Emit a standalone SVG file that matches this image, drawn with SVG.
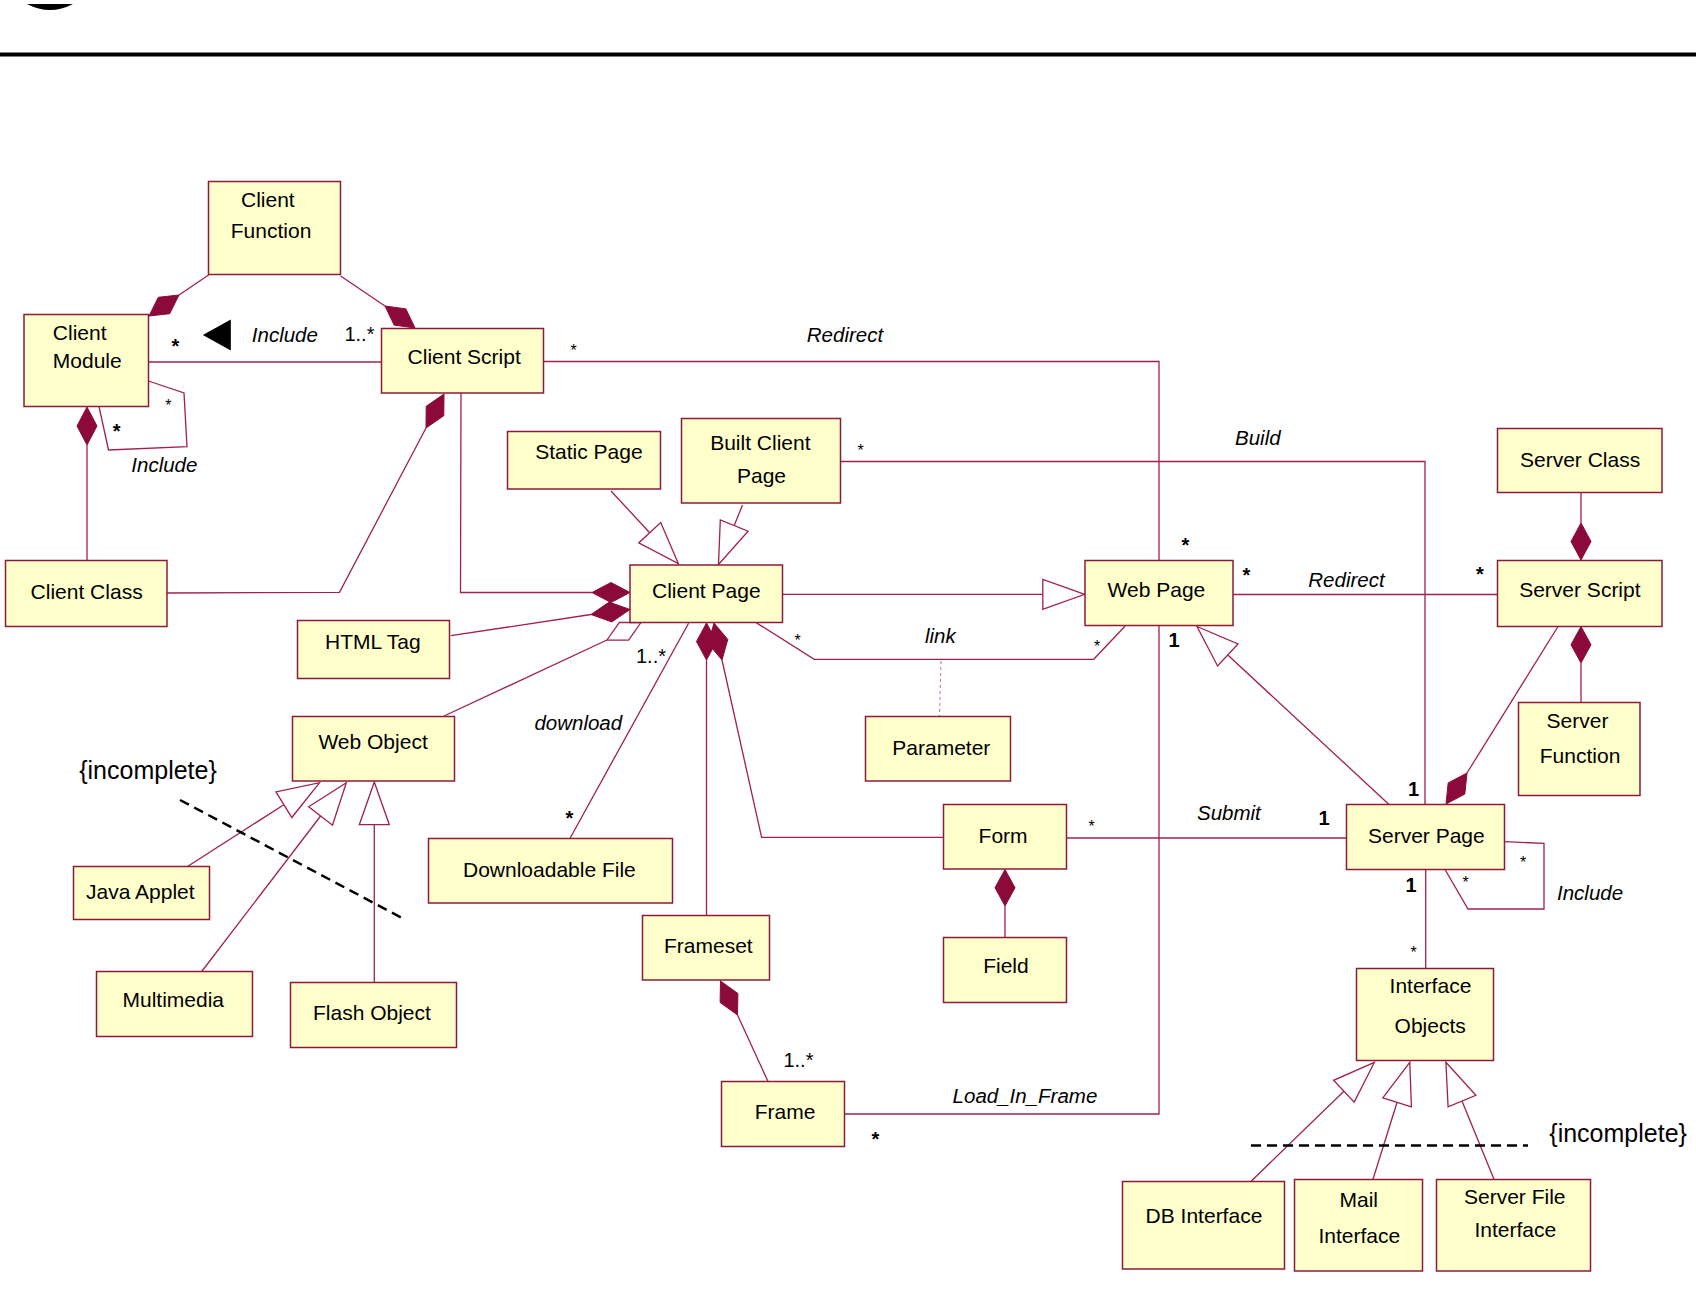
<svg xmlns="http://www.w3.org/2000/svg" width="1696" height="1302" viewBox="0 0 1696 1302">
<style>
.n{fill:#FFFFCC;stroke:#8E1A3A;stroke-width:1.5}
.t{font-family:"Liberation Sans",Arial,sans-serif;font-size:21px;fill:#000}
.c{fill:none;stroke:#A0204F;stroke-width:1.3}
.d{fill:#8B0A3A;stroke:#8B0A3A;stroke-width:1}
.h{fill:#FFFFFF;stroke:#A0204F;stroke-width:1.3}
.m{font-family:"Liberation Sans",Arial,sans-serif;font-size:20px;fill:#000}
.b{font-family:"Liberation Sans",Arial,sans-serif;font-size:20px;font-weight:bold;fill:#000}
.s{font-family:"Liberation Sans",Arial,sans-serif;font-size:16px;fill:#000}
.l{font-family:"Liberation Sans",Arial,sans-serif;font-size:20.5px;font-style:italic;fill:#000}
.k{fill:none;stroke:#000;stroke-width:2.5;stroke-dasharray:10 6}
.inc{font-family:"Liberation Sans",Arial,sans-serif;font-size:25px;fill:#000}
</style>
<rect x="0" y="0" width="1696" height="1302" fill="#FFFFFF"/>
<path d="M 27,4 L 73,4 Q 50,16 27,4 Z" fill="#000"/>
<line x1="0" y1="54.5" x2="1696" y2="54.5" stroke="#000" stroke-width="4"/>

<g id="connectors">
<line class="c" x1="208.6" y1="275" x2="179" y2="295"/>
<polygon class="d" points="149,316 169.7,313.7 179,295 158.3,297.3"/>
<line class="c" x1="340.6" y1="276" x2="385" y2="306"/>
<polygon class="d" points="415,328 405.9,308.9 385,306 394.1,325.1"/>
<line class="c" x1="148.5" y1="362" x2="381.5" y2="362"/>
<polygon points="202.8,335 230.8,319.5 230.8,350.5" fill="#000"/>
<polyline class="c" points="148.5,381 184,393 187,446.7 108.5,450 99,406.5"/>
<line class="c" x1="87" y1="560.5" x2="87" y2="445"/>
<polygon class="d" points="87,407 97,426 87,445 77,426"/>
<polyline class="c" points="167,593 339.5,592.3 426,428"/>
<polygon class="d" points="444,394 443.8,415.7 426,428 426.2,406.3"/>
<polyline class="c" points="461,393 460.5,592.5 592,592.5"/>
<polygon class="d" points="630,592.5 611,582.5 592,592.5 611,602.5"/>
<line class="c" x1="450.8" y1="635.7" x2="591" y2="614.5"/>
<polygon class="d" points="630,609.5 611.8,621.9 591,614.5 609.2,602.1"/>
<line class="c" x1="444" y1="716" x2="607" y2="640"/>
<polygon class="h" points="641,622.5 628.6,640.2 607,640 619.4,622.4"/>
<line class="c" x1="688.6" y1="623.3" x2="570.2" y2="838"/>
<line class="c" x1="706.5" y1="915.5" x2="706.5" y2="660"/>
<polygon class="d" points="706.5,623 716.5,641.5 706.5,660 696.5,641.5"/>
<polyline class="c" points="943.5,837.3 761.6,837.3 722,660"/>
<polygon class="d" points="714,623 727.8,639.4 722,660 708.2,643.6"/>
<line class="c" x1="782.5" y1="594.3" x2="1042.8" y2="594.3"/>
<polygon class="h" points="1084.8,594.3 1042.8,579.3 1042.8,609.3"/>
<polyline class="c" points="756.2,622.7 814.3,659.3 1093.7,659.3 1125.2,626"/>
<line x1="941" y1="661" x2="939.5" y2="716.5" stroke="#C07090" stroke-width="1" stroke-dasharray="3 3"/>
<polyline class="c" points="543.5,361.5 1159,361.5 1159,560.5"/>
<polyline class="c" points="840.5,461.5 1425,461.5 1425,804.5"/>
<line class="c" x1="611" y1="491" x2="649.7" y2="532.7"/>
<polygon class="h" points="678.3,563.5 660.7,522.5 638.7,542.9"/>
<line class="c" x1="742.5" y1="505" x2="734.2" y2="525.6"/>
<polygon class="h" points="718.5,564.5 748.1,531.2 720.3,520"/>
<line class="c" x1="1233" y1="594.5" x2="1497.5" y2="594.5"/>
<line class="c" x1="1581" y1="492.5" x2="1581" y2="523"/>
<polygon class="d" points="1581,560 1591,541.5 1581,523 1571,541.5"/>
<line class="c" x1="1581" y1="702.5" x2="1581" y2="663"/>
<polygon class="d" points="1581,626.5 1591,644.75 1581,663 1571,644.75"/>
<line class="c" x1="1558" y1="626.5" x2="1467" y2="773"/>
<polygon class="d" points="1446,804 1464.8,794.1 1467,773 1448.2,782.9"/>
<line class="c" x1="1389" y1="804.5" x2="1227.8" y2="655"/>
<polygon class="h" points="1197,626.5 1238,644 1217.6,666"/>
<line class="c" x1="1066.5" y1="838" x2="1346.5" y2="838"/>
<polyline class="c" points="844.5,1114 1159,1114 1159,625.5"/>
<line class="c" x1="768" y1="1081.5" x2="737.5" y2="1015"/>
<polygon class="d" points="720.5,981 737.9,993.5 737.5,1015 720.1,1002.5"/>
<line class="c" x1="1005" y1="937.5" x2="1005" y2="906"/>
<polygon class="d" points="1005,869.5 1015,887.75 1005,906 995,887.75"/>
<line class="c" x1="1425.7" y1="869.5" x2="1425.7" y2="968.5"/>
<polyline class="c" points="1504.5,841.7 1544,843.3 1544,909 1468,909 1445,869.5"/>
<line class="c" x1="1250.9" y1="1181.5" x2="1343.9" y2="1091.2"/>
<polygon class="h" points="1374.4,1062.3 1354.2,1102.1 1333.6,1080.3"/>
<line class="c" x1="1372.9" y1="1179.5" x2="1397.1" y2="1102.3"/>
<polygon class="h" points="1409.8,1062.3 1411.4,1106.8 1382.8,1097.8"/>
<line class="c" x1="1494.1" y1="1179.5" x2="1462" y2="1101.1"/>
<polygon class="h" points="1445.9,1062.3 1475.9,1095.3 1448.1,1106.9"/>
<line class="c" x1="187.5" y1="866.5" x2="283.9" y2="804.7"/>
<polygon class="h" points="319.6,782.7 291.8,817.5 276,791.9"/>
<line class="c" x1="201.7" y1="971.5" x2="320.6" y2="816"/>
<polygon class="h" points="346.3,782.7 332.5,825.2 308.7,806.8"/>
<line class="c" x1="374.3" y1="982.5" x2="374.3" y2="824.7"/>
<polygon class="h" points="374.3,782 359.3,824.7 389.3,824.7"/>
<line class="k" x1="180" y1="800" x2="404" y2="919"/>
<line class="k" x1="1251" y1="1145.5" x2="1528" y2="1145.5"/>

<text class="b" x="175.3" y="353" text-anchor="middle">*</text>
<text class="l" x="251.8" y="342">Include</text>
<text class="m" x="344.4" y="341">1..*</text>
<text class="s" x="168.4" y="411" text-anchor="middle">*</text>
<text class="b" x="116.7" y="438" text-anchor="middle">*</text>
<text class="l" x="131.3" y="472">Include</text>
<text class="s" x="573.5" y="356" text-anchor="middle">*</text>
<text class="l" x="806.8" y="341.7">Redirect</text>
<text class="s" x="860.7" y="456" text-anchor="middle">*</text>
<text class="l" x="1235" y="445">Build</text>
<text class="b" x="1185.5" y="552" text-anchor="middle">*</text>
<text class="b" x="1246.3" y="582" text-anchor="middle">*</text>
<text class="l" x="1308.3" y="586.7">Redirect</text>
<text class="b" x="1480" y="581" text-anchor="middle">*</text>
<text class="s" x="797.7" y="646" text-anchor="middle">*</text>
<text class="l" x="925" y="642.7">link</text>
<text class="s" x="1097" y="652" text-anchor="middle">*</text>
<text class="b" x="1174" y="646.5" text-anchor="middle">1</text>
<text class="m" x="636" y="663">1..*</text>
<text class="l" x="534.4" y="730">download</text>
<text class="b" x="569.5" y="825" text-anchor="middle">*</text>
<text class="s" x="1091.5" y="832" text-anchor="middle">*</text>
<text class="l" x="1197" y="820">Submit</text>
<text class="b" x="1324" y="825" text-anchor="middle">1</text>
<text class="b" x="1413.6" y="795.5" text-anchor="middle">1</text>
<text class="b" x="1411" y="892" text-anchor="middle">1</text>
<text class="s" x="1523" y="867.6" text-anchor="middle">*</text>
<text class="s" x="1465.6" y="887.6" text-anchor="middle">*</text>
<text class="l" x="1557" y="900">Include</text>
<text class="s" x="1413.6" y="957.6" text-anchor="middle">*</text>
<text class="m" x="783.4" y="1066.7">1..*</text>
<text class="l" x="952.6" y="1103.3">Load_In_Frame</text>
<text class="b" x="875.3" y="1145.6" text-anchor="middle">*</text>
<text class="inc" x="79.2" y="779.3">{incomplete}</text>
<text class="inc" x="1549.3" y="1141.7">{incomplete}</text>
</g>

<g id="clientFunction"><rect class="n" x="208.5" y="181.5" width="132" height="93"/><text class="t" x="241" y="207.3">Client</text><text class="t" x="230.8" y="238.3">Function</text></g>
<g id="clientModule"><rect class="n" x="24" y="314.5" width="124.5" height="92"/><text class="t" x="52.8" y="340">Client</text><text class="t" x="52.8" y="367.7">Module</text></g>
<g id="clientScript"><rect class="n" x="381.5" y="328.5" width="162" height="64.5"/><text class="t" x="407.6" y="364">Client Script</text></g>
<g id="clientClass"><rect class="n" x="5.5" y="560.5" width="161.5" height="66"/><text class="t" x="30.6" y="599.3">Client Class</text></g>
<g id="htmlTag"><rect class="n" x="297.5" y="620.5" width="152" height="58"/><text class="t" x="325" y="649">HTML Tag</text></g>
<g id="webObject"><rect class="n" x="292.5" y="716.5" width="162" height="64.5"/><text class="t" x="318.4" y="749">Web Object</text></g>
<g id="javaApplet"><rect class="n" x="73.5" y="866.5" width="136" height="53"/><text class="t" x="86" y="898.5">Java Applet</text></g>
<g id="multimedia"><rect class="n" x="96.5" y="971.5" width="156" height="65"/><text class="t" x="122.5" y="1006.7">Multimedia</text></g>
<g id="flashObject"><rect class="n" x="290.5" y="982.5" width="166" height="65"/><text class="t" x="313" y="1020">Flash Object</text></g>
<g id="downloadableFile"><rect class="n" x="428.5" y="838.5" width="244" height="64.5"/><text class="t" x="463" y="876.5">Downloadable File</text></g>
<g id="staticPage"><rect class="n" x="507.5" y="431.5" width="153" height="57.5"/><text class="t" x="535.2" y="459.3">Static Page</text></g>
<g id="builtClientPage"><rect class="n" x="681.5" y="418.5" width="159" height="84.5"/><text class="t" x="710.2" y="450">Built Client</text><text class="t" x="737" y="483.3">Page</text></g>
<g id="clientPage"><rect class="n" x="630" y="565" width="152.5" height="57.5"/><text class="t" x="652" y="597.7">Client Page</text></g>
<g id="webPage"><rect class="n" x="1085" y="560.5" width="148" height="65"/><text class="t" x="1107.6" y="596.7">Web Page</text></g>
<g id="parameter"><rect class="n" x="865.5" y="716.5" width="145" height="64.5"/><text class="t" x="892.3" y="755">Parameter</text></g>
<g id="form"><rect class="n" x="943.5" y="804.5" width="123" height="64.5"/><text class="t" x="978.6" y="843.3">Form</text></g>
<g id="field"><rect class="n" x="943.5" y="937.5" width="123" height="65"/><text class="t" x="983.2" y="973.3">Field</text></g>
<g id="frameset"><rect class="n" x="642.5" y="915.5" width="127" height="64.5"/><text class="t" x="664" y="953.3">Frameset</text></g>
<g id="frame"><rect class="n" x="721.5" y="1081.5" width="123" height="65"/><text class="t" x="754.7" y="1119.3">Frame</text></g>
<g id="serverClass"><rect class="n" x="1497.5" y="428.5" width="164.5" height="64"/><text class="t" x="1520" y="466.7">Server Class</text></g>
<g id="serverScript"><rect class="n" x="1497.5" y="560.5" width="164.5" height="66"/><text class="t" x="1519.2" y="596.7">Server Script</text></g>
<g id="serverFunction"><rect class="n" x="1518.5" y="702.5" width="121.5" height="93"/><text class="t" x="1546.6" y="728.3">Server</text><text class="t" x="1539.8" y="762.7">Function</text></g>
<g id="serverPage"><rect class="n" x="1346.5" y="804.5" width="158" height="65"/><text class="t" x="1368" y="842.7">Server Page</text></g>
<g id="interfaceObjects"><rect class="n" x="1356.5" y="968.5" width="137" height="92"/><text class="t" x="1389.6" y="993.3">Interface</text><text class="t" x="1394.6" y="1032.7">Objects</text></g>
<g id="dbInterface"><rect class="n" x="1122.5" y="1181.5" width="162" height="87.5"/><text class="t" x="1145.6" y="1222.7">DB Interface</text></g>
<g id="mailInterface"><rect class="n" x="1294.5" y="1179.5" width="128" height="91.5"/><text class="t" x="1339.5" y="1207.3">Mail</text><text class="t" x="1318.5" y="1243.3">Interface</text></g>
<g id="serverFileInterface"><rect class="n" x="1436.5" y="1179.5" width="154" height="91.5"/><text class="t" x="1464" y="1204">Server File</text><text class="t" x="1474.4" y="1236.5">Interface</text></g>
</svg>
